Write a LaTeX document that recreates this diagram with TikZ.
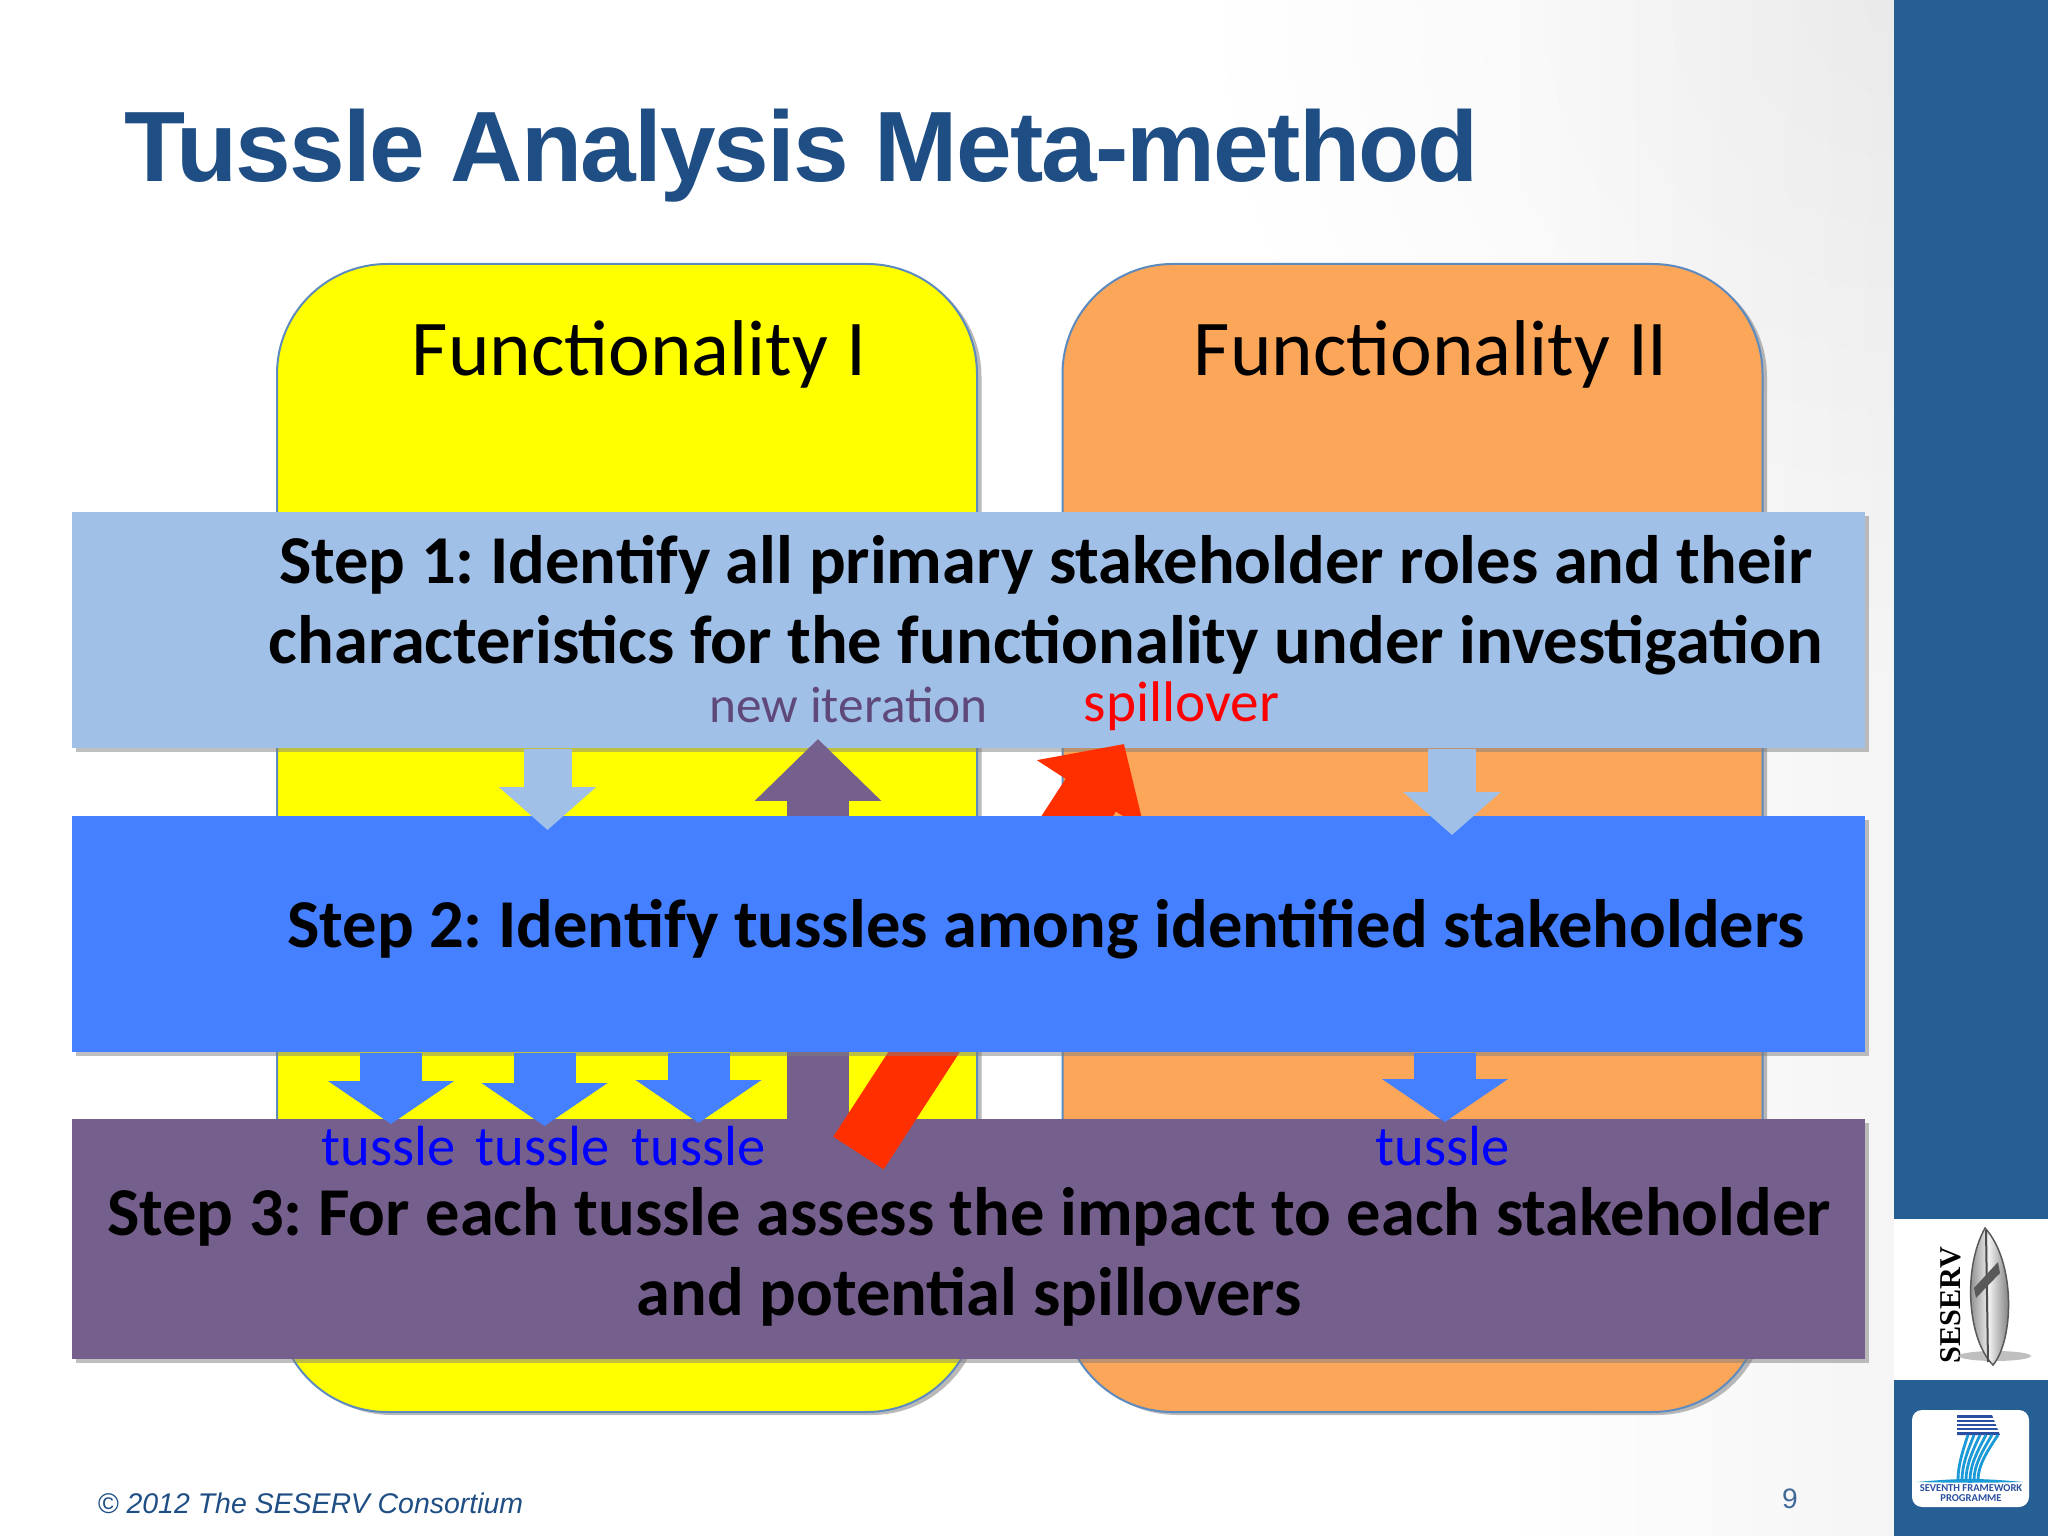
\documentclass[tikz,border=0pt]{standalone}
\usepackage{fontspec}
\setmainfont{Carlito}
\newfontfamily\arialfont{Liberation Sans}
\newfontfamily\titlefont[LetterSpace=-1.85]{Liberation Sans}
\newfontfamily\surffont{Liberation Serif}
\usetikzlibrary{arrows.meta, shadows, fadings}
\tikzfading[name=cornerfade, inner color=transparent!0, outer color=transparent!100]

\definecolor{bandblue}{HTML}{265F94}
\definecolor{titleblue}{HTML}{1F4E85}
\definecolor{edgeblue}{HTML}{5D8BBF}
\definecolor{funcyellow}{HTML}{FFFF00}
\definecolor{funcorange}{HTML}{FCA65A}
\definecolor{stepone}{HTML}{A0C0E8}
\definecolor{steptwo}{HTML}{4480FF}
\definecolor{stepthree}{HTML}{755F8C}
\definecolor{iterpurple}{HTML}{5F497A}
\definecolor{spillred}{HTML}{FF2F00}
\definecolor{fpblue}{HTML}{2B4FA0}
\definecolor{fpcyan}{HTML}{1A9AD6}

\begin{document}
\begin{tikzpicture}[
    % styles
    func/.style={draw=edgeblue, line width=0.02cm, rounded corners=1.1cm, inner sep=0pt,
        minimum width=7cm, minimum height=11.48cm,
        drop shadow={shadow xshift=0.045cm, shadow yshift=-0.03cm, opacity=0.55}},
    stepband/.style={inner sep=0pt, minimum width=17.93cm,
        drop shadow={shadow xshift=0.04cm, shadow yshift=-0.04cm, opacity=0.5}},
    functext/.style={anchor=base west, inner sep=0pt, font=\fontsize{22.5}{26}\selectfont},
    steptext/.style={inner sep=0pt, align=center, font=\fontsize{19.49}{22.76}\selectfont\bfseries\frenchspacing},
    tusslelabel/.style={anchor=base west, inner sep=0pt, text=blue, font=\fontsize{16.1}{19}\selectfont},
    flowone/.style={stepone, line width=0.48cm, -{Triangle[length=0.43cm, width=0.95cm]}},
    flowtwo/.style={steptwo, line width=0.62cm, -{Triangle[length=0.43cm, width=1.24cm]}},
    iterarrow/.style={stepthree, line width=0.62cm, -{Triangle[length=0.62cm, width=1.23cm]}},
    spillarrow/.style={spillred, line width=0.6cm, -{Triangle[length=0.61cm, width=1.25cm]}}
]
\useasboundingbox (0,0) rectangle (20.48,-15.36);

% --- background ---
\fill[white] (0,0) rectangle (20.48,-15.36);
\shade[left color=white, right color=black!4] (15,0) rectangle (18.94,-15.36);
\begin{scope}
    \clip (0,0) rectangle (18.94,-15.36);
    \fill[black, fill opacity=0.045, path fading=cornerfade] (11.94,7) rectangle (25.94,-7);
\end{scope}
\fill[bandblue] (18.94,0) rectangle (20.48,-15.36);
\fill[white] (18.94,-12.19) rectangle (20.48,-13.80);

% --- title ---
\node[anchor=base west, inner sep=0pt, text=titleblue, font=\fontsize{28.45}{32}\selectfont\titlefont\bfseries]
    (title) at (1.24,-1.82) {Tussle Analysis Meta-method};

% --- functionalities ---
\node[func, fill=funcyellow] (F1) at (6.27,-8.38) {};
\node[func, fill=funcorange] (F2) at (14.125,-8.38) {};
\node[functext] (F1-text) at (4.11,-3.76) {Functionality I};
\node[functext] (F2-text) at (11.93,-3.76) {Functionality II};

% --- steps 1 and 3 ---
\node[stepband, fill=stepone, minimum height=2.36cm] (S1) at (9.685,-6.30) {};
\node[stepband, fill=stepthree, minimum height=2.40cm] (S3) at (9.685,-12.385) {};

% --- arrows that go back up ---
\coordinate (iter-tip) at (8.18,-7.39);
\coordinate (spill-tip) at (11.24,-7.44);
\coordinate (spill-tail) at (8.585,-11.53);
\draw[iterarrow] (iter-tip |- S3.center) -- (iter-tip);
\draw[spillarrow] (spill-tail) -- (spill-tip);

% --- step 2 ---
\node[stepband, fill=steptwo, minimum height=2.36cm] (S2) at (9.685,-9.34) {};

% --- arrows that go down ---
\foreach \n/\x/\y in {1/5.475/-8.30, 2/14.52/-8.35}{
    \coordinate (A-\n) at (\x,\y);
    \draw[flowone] (A-\n |- S1.south) -- (A-\n);
}
\foreach \n/\x/\y in {1/3.91/-11.24, 2/5.445/-11.26, 3/6.985/-11.23, 4/14.45/-11.22}{
    \coordinate (B-\n) at (\x,\y);
    \draw[flowtwo] (B-\n |- S2.south) -- (B-\n);
}

% --- texts ---
\node[steptext] (S1-text) at (10.46,-6.05) {Step 1: Identify all primary stakeholder roles and their\\characteristics for the functionality under investigation};
\node[steptext] (S2-text) at (10.46,-9.29) {Step 2: Identify tussles among identified stakeholders};
\node[steptext] (S3-text) at (9.69,-12.565) {Step 3: For each tussle assess the impact to each stakeholder\\and potential spillovers};
\node[anchor=base west, inner sep=0pt, text=iterpurple, font=\fontsize{14.6}{17}\selectfont] (iter-text) at (7.09,-7.23) {new iteration};
\node[anchor=base west, inner sep=0pt, text=red, font=\fontsize{16.3}{19}\selectfont] (spill-text) at (10.83,-7.21) {spillover};
\foreach \n/\x in {1/3.21, 2/4.75, 3/6.31, 4/13.75}
    \node[tusslelabel] (T-\n) at (\x,-11.65) {tussle};

% --- footer ---
\node[anchor=base west, inner sep=0pt, text=titleblue, font=\fontsize{8.1}{10}\selectfont\arialfont\itshape]
    (copyright) at (0.97,-15.13) {© 2012 The SESERV Consortium};
\node[anchor=base, inner sep=0pt, text=titleblue!85, font=\fontsize{8}{10}\selectfont\arialfont]
    (pagenum) at (17.90,-15.08) {9};

% --- surfboard logo ---
\node[rotate=90, inner sep=0pt, font=\fontsize{8.6}{10}\selectfont\surffont\bfseries] (surfname) at (19.51,-13.05) {SESERV};
\fill[black!25] (19.95,-13.56) ellipse (0.36cm and 0.05cm);
\shade[draw=black!65, line width=0.015cm, left color=black!60, right color=black!65, middle color=black!6]
    (19.85,-12.28) .. controls (19.62,-12.70) and (19.68,-13.40) .. (19.93,-13.65)
    .. controls (20.14,-13.40) and (20.16,-12.62) .. cycle;
\draw[black!70, line width=0.02cm] (19.86,-12.30) -- (19.88,-13.62);
\fill[black!65] (19.74,-12.88) -- (19.98,-12.62) -- (20.00,-12.73) -- (19.76,-12.98) -- cycle;

% --- framework programme logo ---
\fill[white, rounded corners=0.1cm] (19.12,-14.10) rectangle (20.29,-15.07);
\fill[fpblue] (19.57,-14.15) -- (19.92,-14.15) -- (20.00,-14.35) -- (19.57,-14.35) -- cycle;
\foreach \y in {14.19,14.23,14.27,14.31}
    \draw[white, line width=0.012cm] (19.55,-\y) -- (20.02,-\y);
\foreach \i in {0,...,5}
    \draw[fpcyan, line width=0.028cm] ({19.68+0.06*\i},-14.35) .. controls ({19.63+0.05*\i},-14.50) and ({19.58+0.04*\i},-14.65) .. ({19.58+0.04*\i},-14.80);
\fill[fpcyan] (19.17,-14.82) .. controls (19.60,-14.78) and (19.80,-14.78) .. (20.23,-14.82)
    .. controls (19.80,-14.83) and (19.60,-14.83) .. cycle;
\node[inner sep=0pt, align=center, text=fpblue, font=\fontsize{3}{2.7}\selectfont\bfseries] (fp-text) at (19.71,-14.93) {SEVENTH FRAMEWORK\\PROGRAMME};

\end{tikzpicture}
\end{document}
